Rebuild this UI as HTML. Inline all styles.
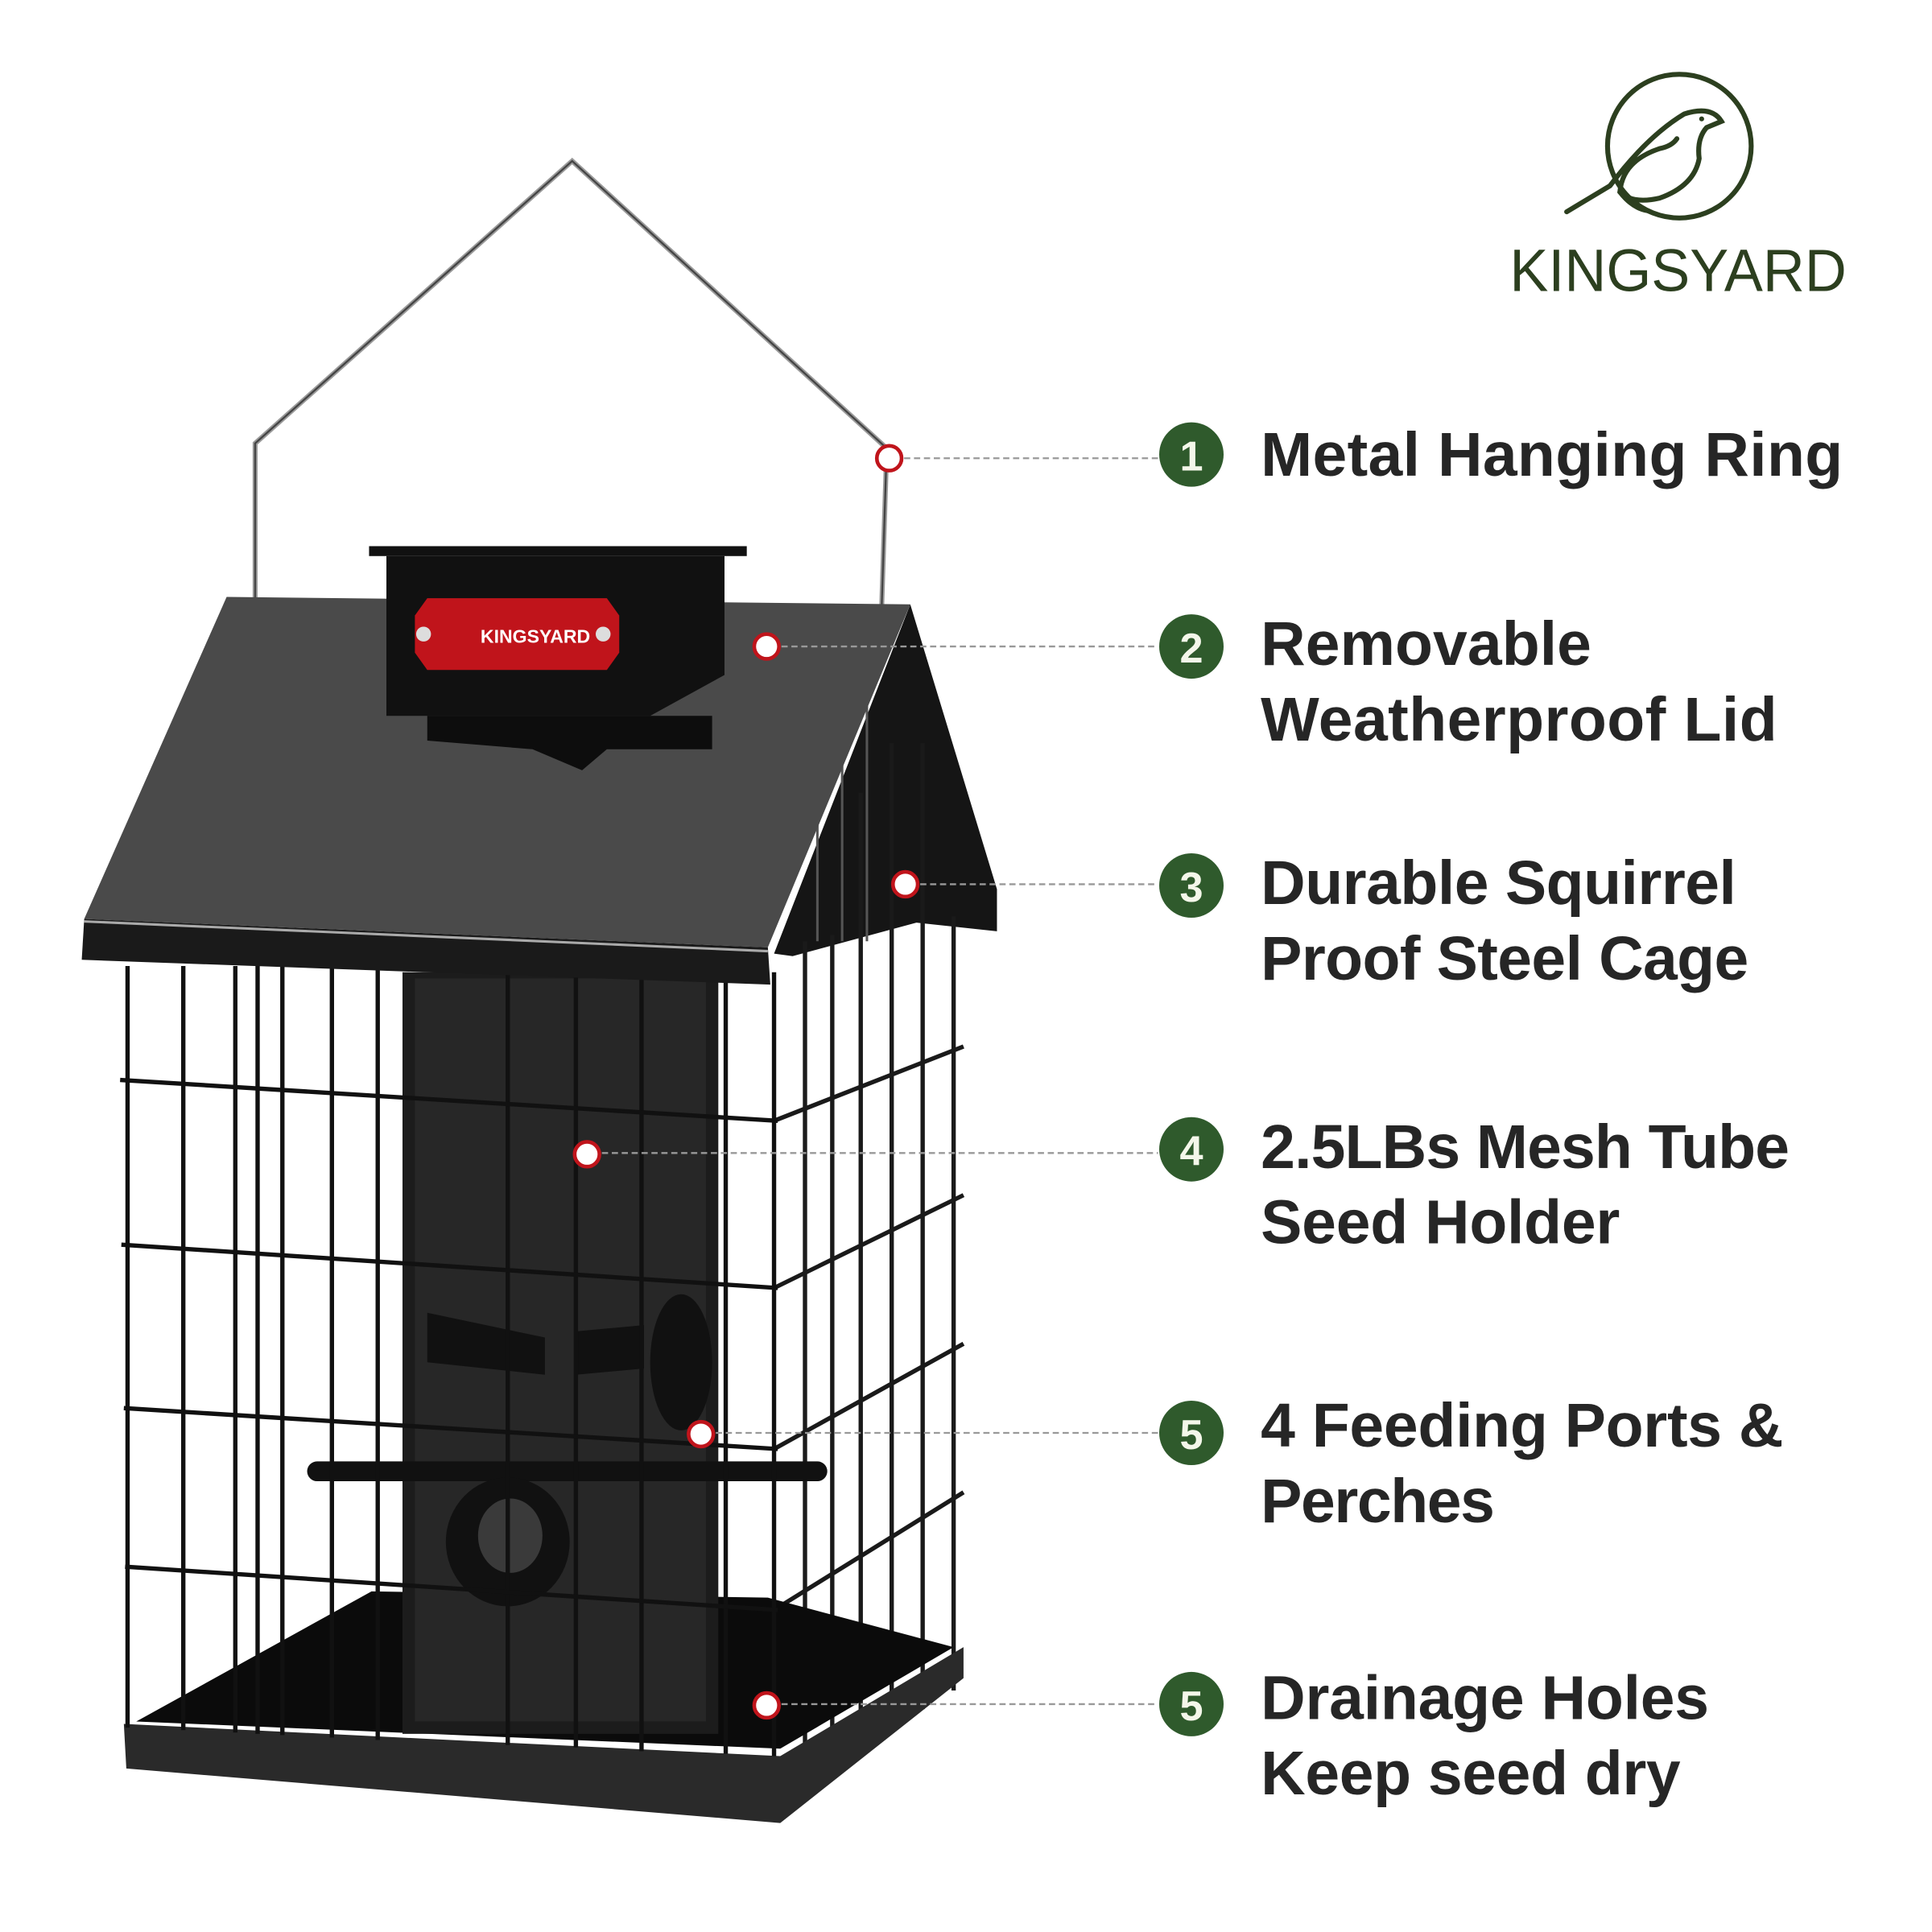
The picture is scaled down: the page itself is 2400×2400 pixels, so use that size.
<!DOCTYPE html>
<html><head><meta charset="utf-8"><style>html,body{margin:0;padding:0;background:#fff}svg{display:block}</style></head>
<body>
<svg width="2400" height="2400" viewBox="0 0 1560 1560" xmlns="http://www.w3.org/2000/svg" font-family="Liberation Sans, sans-serif">
<rect width="1560" height="1560" fill="#fff"/>
<!-- logo -->
<g fill="none" stroke="#2c3f1f" stroke-width="4" stroke-linecap="round">
<circle cx="1356" cy="118" r="58"/>
<path d="M1265 171 L1300 150 Q1330 110 1360 92 Q1382 85 1390 98 L1378 103 Q1370 112 1372 128 Q1368 150 1340 160 Q1318 165 1308 155 Q1310 130 1340 120 Q1350 118 1354 112"/>
<path d="M1308 155 Q1318 168 1330 170"/>
</g>
<circle cx="1374" cy="96" r="2" fill="#2c3f1f"/>
<text x="1219" y="235" font-size="48" fill="#2c3f1f" textLength="272" lengthAdjust="spacingAndGlyphs">KINGSYARD</text>

<!-- hanger -->
<path d="M206 485 L206 358 L462 130 L716 362 L712 488" fill="none" stroke="#9a9a9a" stroke-width="4"/>
<path d="M206 485 L206 358 L462 130 L716 362 L712 488" fill="none" stroke="#444" stroke-width="1.5"/>
<!-- side gable -->
<polygon points="735,488 805,718 805,752 740,745 640,772 625,770" fill="#151515"/>
<!-- right side cage -->
<g stroke="#1a1a1a" stroke-width="3.5" fill="none">
<line x1="650" y1="760" x2="650" y2="1440"/><line x1="672" y1="755" x2="672" y2="1425"/><line x1="695" y1="640" x2="695" y2="1410"/><line x1="720" y1="600" x2="720" y2="1395"/><line x1="745" y1="600" x2="745" y2="1380"/><line x1="770" y1="740" x2="770" y2="1365"/>
<line x1="625" y1="905" x2="778" y2="845"/><line x1="625" y1="1040" x2="778" y2="965"/><line x1="625" y1="1170" x2="778" y2="1085"/><line x1="625" y1="1300" x2="778" y2="1205"/>
</g>
<g stroke="#555" stroke-width="2" fill="none">
<line x1="660" y1="600" x2="660" y2="760"/><line x1="680" y1="560" x2="680" y2="760"/><line x1="700" y1="520" x2="700" y2="760"/>
</g>
<!-- base tray -->
<polygon points="100,1392 630,1418 778,1330 778,1355 630,1472 102,1428" fill="#2a2a2a"/>
<polygon points="110,1390 630,1412 770,1330 620,1290 300,1285" fill="#0b0b0b"/>
<!-- tube -->
<rect x="325" y="785" width="255" height="615" fill="#1c1c1c"/>
<rect x="335" y="790" width="235" height="600" fill="#2e2e2e" opacity=".6"/>
<rect x="248" y="1180" width="420" height="16" rx="8" fill="#111"/>
<ellipse cx="410" cy="1245" rx="50" ry="52" fill="#111"/>
<ellipse cx="412" cy="1240" rx="26" ry="30" fill="#3a3a3a"/>
<ellipse cx="550" cy="1100" rx="25" ry="55" fill="#111"/>
<path d="M345 1060 L440 1080 L440 1110 L345 1100Z" fill="#111"/>
<path d="M465 1075 L520 1070 L520 1105 L465 1110Z" fill="#111"/>
<!-- front cage -->
<g stroke="#111" stroke-width="3.5" fill="none">
<line x1="103" y1="780" x2="103" y2="1395"/><line x1="148" y1="780" x2="148" y2="1397"/><line x1="190" y1="780" x2="190" y2="1399"/><line x1="208" y1="780" x2="208" y2="1400"/><line x1="228" y1="780" x2="228" y2="1401"/><line x1="268" y1="780" x2="268" y2="1403"/><line x1="305" y1="780" x2="305" y2="1405"/><line x1="410" y1="785" x2="410" y2="1409"/><line x1="465" y1="785" x2="465" y2="1411"/><line x1="518" y1="785" x2="518" y2="1414"/><line x1="586" y1="785" x2="586" y2="1416"/><line x1="625" y1="785" x2="625" y2="1418"/>
<line x1="97" y1="872" x2="628" y2="905"/><line x1="98" y1="1005" x2="628" y2="1040"/><line x1="100" y1="1137" x2="628" y2="1170"/><line x1="101" y1="1265" x2="628" y2="1300"/>
</g>
<!-- roof -->
<polygon points="183,482 735,488 620,765 68,742" fill="#4a4a4a"/>
<polygon points="68,742 620,765 622,795 66,775" fill="#1a1a1a"/>
<line x1="68" y1="744" x2="620" y2="768" stroke="#aaa" stroke-width="2"/>
<!-- lid box -->
<rect x="298" y="441" width="305" height="8" fill="#111"/>
<polygon points="312,449 585,449 585,545 525,578 312,578" fill="#111"/>
<polygon points="345,578 575,578 575,605 490,605 470,622 430,605 345,598" fill="#0d0d0d"/>
<polygon points="335,497 345,483 490,483 500,497 500,527 490,541 345,541 335,527" fill="#c0141b"/>
<circle cx="342" cy="512" r="6" fill="#ddd"/><circle cx="487" cy="512" r="6" fill="#ddd"/>
<text x="388" y="519" font-size="15" font-weight="bold" fill="#fff">KINGSYARD</text>
<!-- connectors -->
<g stroke="#999" stroke-width="1.5" stroke-dasharray="5,3">
<line x1="730" y1="370" x2="935" y2="370"/><line x1="631" y1="522" x2="935" y2="522"/><line x1="743" y1="714" x2="935" y2="714"/><line x1="486" y1="931" x2="935" y2="931"/><line x1="578" y1="1157" x2="935" y2="1157"/><line x1="631" y1="1376" x2="935" y2="1376"/>
</g>
<g fill="#fff" stroke="#c0141b" stroke-width="3">
<circle cx="718" cy="370" r="10"/><circle cx="619" cy="522" r="10"/><circle cx="731" cy="714" r="10"/><circle cx="474" cy="932" r="10"/><circle cx="566" cy="1158" r="10"/><circle cx="619" cy="1377" r="10"/>
</g>
<!-- number badges -->
<g fill="#2f5a2c">
<circle cx="962" cy="367" r="26"/><circle cx="962" cy="522" r="26"/><circle cx="962" cy="715" r="26"/><circle cx="962" cy="928" r="26"/><circle cx="962" cy="1157" r="26"/><circle cx="962" cy="1376" r="26"/>
</g>
<g fill="#f4f7ea" font-size="34" font-weight="bold" text-anchor="middle">
<text x="962" y="380">1</text><text x="962" y="535">2</text><text x="962" y="728">3</text><text x="962" y="941">4</text><text x="962" y="1170">5</text><text x="962" y="1389">5</text>
</g>
<g fill="#262626" font-size="50" font-weight="bold" lengthAdjust="spacingAndGlyphs">
<text x="1018" y="384" textLength="470">Metal Hanging Ring</text>
<text x="1018" y="537" textLength="267">Removable</text>
<text x="1018" y="598" textLength="417">Weatherproof Lid</text>
<text x="1018" y="730" textLength="384">Durable Squirrel</text>
<text x="1018" y="791" textLength="394">Proof Steel Cage</text>
<text x="1018" y="943" textLength="427">2.5LBs Mesh Tube</text>
<text x="1018" y="1004" textLength="290">Seed Holder</text>
<text x="1018" y="1168" textLength="422">4 Feeding Ports &amp;</text>
<text x="1018" y="1229" textLength="189">Perches</text>
<text x="1018" y="1388" textLength="362">Drainage Holes</text>
<text x="1018" y="1449" textLength="339">Keep seed dry</text>
</g>
</svg>
</body></html>
